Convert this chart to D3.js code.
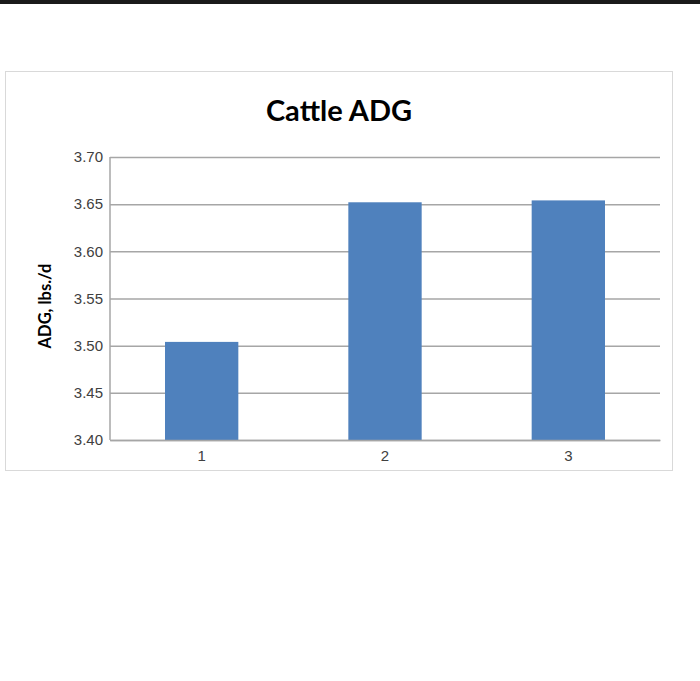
<!DOCTYPE html>
<html>
<head>
<meta charset="utf-8">
<script src="https://cdn.jsdelivr.net/npm/d3@7"></script>
<style>
  body { margin: 0; background: #fff; }
  svg { display: block; }
</style>
</head>
<body>
<script>
// Cattle ADG bar chart
const categories = ['1', '2', '3'];
const adgValues = [3.504, 3.652, 3.654];
const yTicks = [3.40, 3.45, 3.50, 3.55, 3.60, 3.65, 3.70];

const W = 700, H = 681;
const plot = { left: 110, right: 660, top: 157, bottom: 440 };

const svg = d3.select('body').append('svg')
    .attr('width', W)
    .attr('height', H);

// black strip along the top of the screenshot
svg.append('rect')
    .attr('x', 0).attr('y', 0)
    .attr('width', W).attr('height', 4)
    .attr('fill', '#1a1a1a');

// chart frame
svg.append('rect')
    .attr('x', 5.5).attr('y', 71.5)
    .attr('width', 667).attr('height', 399)
    .attr('fill', '#fff')
    .attr('stroke', '#d9d9d9')
    .attr('stroke-width', 1);

const x = d3.scaleBand()
    .domain(categories)
    .range([plot.left, plot.right])
    .paddingInner(0.6)
    .paddingOuter(0.3);

const y = d3.scaleLinear()
    .domain([3.40, 3.70])
    .range([plot.bottom, plot.top]);

// gridlines + y labels
const yAxis = d3.axisLeft(y)
    .tickValues(yTicks)
    .tickFormat(d3.format('.2f'))
    .tickSize(-(plot.right - plot.left))
    .tickPadding(7);

const yG = svg.append('g')
    .attr('transform', `translate(${plot.left},0)`)
    .call(yAxis);
yG.select('.domain').remove();
yG.selectAll('.tick line')
    .attr('stroke', '#a6a6a6')
    .attr('stroke-width', 1.5);
yG.selectAll('.tick text')
    .attr('font-family', 'Liberation Sans, Arial, sans-serif')
    .attr('font-size', 15)
    .attr('fill', '#404040');

// left axis line
svg.append('line')
    .attr('x1', plot.left).attr('x2', plot.left)
    .attr('y1', plot.top).attr('y2', plot.bottom)
    .attr('stroke', '#a6a6a6')
    .attr('stroke-width', 1.5);

// bars
svg.selectAll('rect.bar').data(adgValues)
    .enter().append('rect')
    .attr('class', 'bar')
    .attr('x', (d, i) => x(categories[i]))
    .attr('y', d => y(d))
    .attr('width', x.bandwidth())
    .attr('height', d => y(3.40) - y(d))
    .attr('fill', '#4f81bd');

// x axis
const xG = svg.append('g')
    .attr('transform', `translate(0,${plot.bottom})`)
    .call(d3.axisBottom(x).tickSize(0).tickPadding(10));
xG.select('.domain')
    .attr('stroke', '#a6a6a6')
    .attr('stroke-width', 1.5);
xG.selectAll('.tick text')
    .attr('font-family', 'Liberation Sans, Arial, sans-serif')
    .attr('font-size', 15)
    .attr('fill', '#404040');

// title
svg.append('text')
    .attr('x', 339)
    .attr('y', 121)
    .attr('text-anchor', 'middle')
    .attr('font-family', 'Lato, sans-serif')
    .attr('font-weight', 'bold')
    .attr('font-size', 29)
    .attr('fill', '#000')
    .text('Cattle ADG');

// y axis title
svg.append('text')
    .attr('transform', 'translate(51,306) rotate(-90)')
    .attr('text-anchor', 'middle')
    .attr('font-family', 'Lato, sans-serif')
    .attr('font-weight', 'bold')
    .attr('font-size', 16.5)
    .attr('fill', '#000')
    .text('ADG, lbs./d');
</script>
</body>
</html>
